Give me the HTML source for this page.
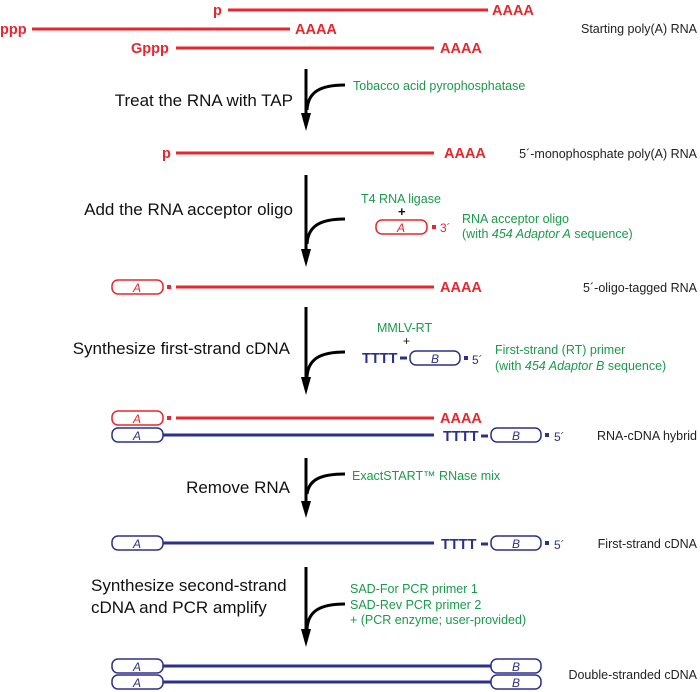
<!DOCTYPE html>
<html><head><meta charset="utf-8"><style>
html,body{margin:0;padding:0;background:#fff;}
svg{display:block;font-family:"Liberation Sans",Arial,sans-serif;}
.r{fill:#e8262d;font-weight:bold;font-size:14.5px;}
.g{fill:#1a9a4a;font-size:12.5px;}
.k{fill:#222;font-size:12.5px;}
.s{fill:#111;font-size:17px;}
.b{fill:#2b3089;font-weight:bold;font-size:14.5px;}
.bi{fill:#2b3089;font-style:italic;font-size:12px;}
.ri{fill:#e8262d;font-style:italic;font-size:12px;}
</style></head><body>
<svg width="700" height="692" viewBox="0 0 700 692" xmlns="http://www.w3.org/2000/svg">
<defs>
<g id="arr">
<line x1="0" y1="0" x2="0" y2="48" stroke="#000" stroke-width="3"/>
<polygon points="-5,44 5,44 0,62" fill="#000"/>
</g>
</defs>
<text x="213" y="15" class="r">p</text>
<line x1="228" y1="10" x2="488" y2="10" stroke="#e8262d" stroke-width="3"/>
<text x="492" y="15" class="r">AAAA</text>
<text x="0" y="34" class="r">ppp</text>
<line x1="32" y1="29" x2="290" y2="29" stroke="#e8262d" stroke-width="3"/>
<text x="295" y="34" class="r">AAAA</text>
<text x="131" y="53" class="r">Gppp</text>
<line x1="176" y1="48" x2="434" y2="48" stroke="#e8262d" stroke-width="3"/>
<text x="440" y="53" class="r">AAAA</text>
<text x="697" y="33" class="k" text-anchor="end">Starting poly(A) RNA</text>

<g transform="translate(306,69)"><use href="#arr"/></g>
<path d="M345,85 C320,85 308,92 307,110" stroke="#000" stroke-width="3" fill="none"/>
<text x="353" y="90" class="g">Tobacco acid pyrophosphatase</text>
<text x="293" y="106" class="s" text-anchor="end">Treat the RNA with TAP</text>

<text x="162" y="158" class="r">p</text>
<line x1="176" y1="153" x2="434" y2="153" stroke="#e8262d" stroke-width="3"/>
<text x="444" y="158" class="r">AAAA</text>
<text x="697" y="158" class="k" text-anchor="end">5´-monophosphate poly(A) RNA</text>

<g transform="translate(306,175)"><line x1="0" y1="0" x2="0" y2="78" stroke="#000" stroke-width="3"/><polygon points="-5,74 5,74 0,92" fill="#000"/></g>
<path d="M345,219 C320,219 308,226 307,244" stroke="#000" stroke-width="3" fill="none"/>
<text x="361" y="203" class="g">T4 RNA ligase</text>
<text x="398" y="216" style="font-size:13px;font-weight:bold;fill:#111">+</text>
<rect x="376" y="220" width="51" height="14" rx="6" fill="none" stroke="#e8262d" stroke-width="1.5"/>
<text x="401" y="232" class="ri" text-anchor="middle">A</text>
<rect x="432" y="225" width="4" height="4" fill="#e8262d"/>
<text x="440" y="232" style="fill:#e8262d;font-size:12px">3´</text>
<text x="462" y="223" class="g">RNA acceptor oligo</text>
<text x="462" y="238" class="g">(with <tspan font-style="italic">454 Adaptor A</tspan> sequence)</text>
<text x="293" y="215" class="s" text-anchor="end">Add the RNA acceptor oligo</text>

<rect x="112" y="280" width="51" height="14" rx="6" fill="none" stroke="#e8262d" stroke-width="1.5"/>
<text x="137" y="292" class="ri" text-anchor="middle">A</text>
<rect x="167" y="285" width="4" height="4" fill="#e8262d"/>
<line x1="176" y1="287" x2="434" y2="287" stroke="#e8262d" stroke-width="3"/>
<text x="440" y="292" class="r">AAAA</text>
<text x="697" y="292" class="k" text-anchor="end">5´-oligo-tagged RNA</text>

<g transform="translate(306,307)"><line x1="0" y1="0" x2="0" y2="74" stroke="#000" stroke-width="3"/><polygon points="-5,70 5,70 0,88" fill="#000"/></g>
<path d="M345,352 C320,352 308,359 307,377" stroke="#000" stroke-width="3" fill="none"/>
<text x="377" y="332" class="g">MMLV-RT</text>
<text x="403" y="345" style="font-size:12px;fill:#111">+</text>
<text x="362" y="363" class="b">TTTT</text>
<line x1="400" y1="358" x2="407" y2="358" stroke="#2b3089" stroke-width="3"/>
<rect x="410" y="351" width="50" height="14" rx="6" fill="none" stroke="#2b3089" stroke-width="1.5"/>
<text x="435" y="363" class="bi" text-anchor="middle">B</text>
<rect x="464" y="356" width="4" height="4" fill="#2b3089"/>
<text x="472" y="364" style="fill:#2b3089;font-size:12px">5´</text>
<text x="495" y="354" class="g">First-strand (RT) primer</text>
<text x="495" y="370" class="g">(with <tspan font-style="italic">454 Adaptor B</tspan> sequence)</text>
<text x="290" y="354" class="s" text-anchor="end">Synthesize first-strand cDNA</text>

<rect x="112" y="411" width="51" height="14" rx="6" fill="none" stroke="#e8262d" stroke-width="1.5"/>
<text x="137" y="423" class="ri" text-anchor="middle">A</text>
<rect x="167" y="416" width="4" height="4" fill="#e8262d"/>
<line x1="176" y1="418" x2="434" y2="418" stroke="#e8262d" stroke-width="3"/>
<text x="440" y="423" class="r">AAAA</text>
<rect x="112" y="428" width="51" height="14" rx="6" fill="none" stroke="#2b3089" stroke-width="1.5"/>
<text x="137" y="440" class="bi" text-anchor="middle">A</text>
<line x1="163" y1="435" x2="434" y2="435" stroke="#2b3089" stroke-width="3"/>
<text x="443" y="441" class="b">TTTT</text>
<line x1="481" y1="436" x2="488" y2="436" stroke="#2b3089" stroke-width="3"/>
<rect x="491" y="428" width="50" height="14" rx="6" fill="none" stroke="#2b3089" stroke-width="1.5"/>
<text x="516" y="440" class="bi" text-anchor="middle">B</text>
<rect x="545" y="433" width="4" height="4" fill="#2b3089"/>
<text x="554" y="441" style="fill:#2b3089;font-size:12px">5´</text>
<text x="697" y="440" class="k" text-anchor="end">RNA-cDNA hybrid</text>

<g transform="translate(306,458)"><line x1="0" y1="0" x2="0" y2="46" stroke="#000" stroke-width="3"/><polygon points="-5,43 5,43 0,60" fill="#000"/></g>
<path d="M345,474 C320,474 309,480 307,494" stroke="#000" stroke-width="3" fill="none"/>
<text x="352" y="480" class="g">ExactSTART™ RNase mix</text>
<text x="290" y="493" class="s" text-anchor="end">Remove RNA</text>

<rect x="112" y="536" width="51" height="14" rx="6" fill="none" stroke="#2b3089" stroke-width="1.5"/>
<text x="137" y="548" class="bi" text-anchor="middle">A</text>
<line x1="163" y1="543" x2="434" y2="543" stroke="#2b3089" stroke-width="3"/>
<text x="441" y="549" class="b">TTTT</text>
<line x1="481" y1="544" x2="488" y2="544" stroke="#2b3089" stroke-width="3"/>
<rect x="491" y="536" width="50" height="14" rx="6" fill="none" stroke="#2b3089" stroke-width="1.5"/>
<text x="516" y="548" class="bi" text-anchor="middle">B</text>
<rect x="545" y="541" width="4" height="4" fill="#2b3089"/>
<text x="554" y="549" style="fill:#2b3089;font-size:12px">5´</text>
<text x="697" y="548" class="k" text-anchor="end">First-strand cDNA</text>

<g transform="translate(306,567)"><line x1="0" y1="0" x2="0" y2="66" stroke="#000" stroke-width="3"/><polygon points="-5,62 5,62 0,80" fill="#000"/></g>
<path d="M345,604 C320,604 308,611 307,629" stroke="#000" stroke-width="3" fill="none"/>
<text x="350" y="593" class="g">SAD-For PCR primer 1</text>
<text x="350" y="609" class="g">SAD-Rev PCR primer 2</text>
<text x="350" y="624" class="g">+ (PCR enzyme; user-provided)</text>
<text x="91" y="591" class="s">Synthesize second-strand</text>
<text x="91" y="613" class="s">cDNA and PCR amplify</text>

<rect x="112" y="659" width="51" height="14" rx="6" fill="none" stroke="#2b3089" stroke-width="1.5"/>
<text x="137" y="671" class="bi" text-anchor="middle">A</text>
<line x1="163" y1="666" x2="491" y2="666" stroke="#2b3089" stroke-width="3"/>
<rect x="491" y="659" width="50" height="14" rx="6" fill="none" stroke="#2b3089" stroke-width="1.5"/>
<text x="516" y="671" class="bi" text-anchor="middle">B</text>
<rect x="112" y="675" width="51" height="14" rx="6" fill="none" stroke="#2b3089" stroke-width="1.5"/>
<text x="137" y="687" class="bi" text-anchor="middle">A</text>
<line x1="163" y1="682" x2="491" y2="682" stroke="#2b3089" stroke-width="3"/>
<rect x="491" y="675" width="50" height="14" rx="6" fill="none" stroke="#2b3089" stroke-width="1.5"/>
<text x="516" y="687" class="bi" text-anchor="middle">B</text>
<text x="697" y="679" class="k" text-anchor="end">Double-stranded cDNA</text>
</svg>
</body></html>
